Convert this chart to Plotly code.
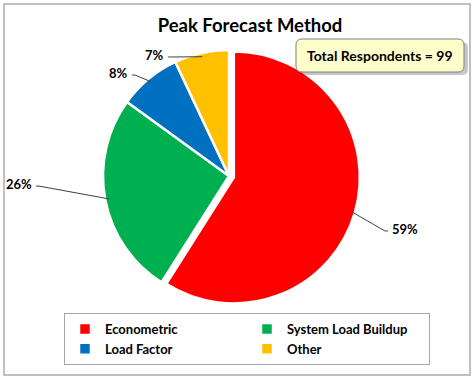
import math
import plotly.graph_objects as go

# ---- data ----
categories = ["Econometric", "System Load Buildup", "Load Factor", "Other"]
values = [59, 26, 8, 7]
label_texts = ["59%", "26%", "8%", "7%"]
title_text = "Peak Forecast Method"
note_text = "Total Respondents = 99"

# ---- style / geometry ----
colors = ["#FF0000", "#00B050", "#0070C0", "#FFC000"]
pulls = [0.04, 0, 0, 0]
label_delta = [2.3, 8.4, -3.7, -14.1]   # degrees offset of label from slice mid-angle
label_k = [1.29, 1.533, 1.123, 1.075]   # radial factor of label anchor
FONT = "Lato"

W, H = 474, 379
CX, CY, R = 229, 176, 126
half = R * (1 + max(pulls))


def px(x):
    return x / W


def py(y):
    return 1 - y / H


fig = go.Figure(go.Pie(
    labels=categories,
    values=values,
    sort=False,
    direction="clockwise",
    rotation=0,
    pull=pulls,
    textinfo="none",
    hoverinfo="label+percent",
    marker=dict(colors=colors, line=dict(color="white", width=2.5)),
    domain=dict(x=[px(CX - half), px(CX + half)], y=[py(CY + half), py(CY - half)]),
))

# labels with leader lines, positioned from slice angles
total = sum(values)
cum = 0
shapes = []
annotations = []
for i, v in enumerate(values):
    mid = (cum + v / 2) / total * 360
    cum += v
    m = math.radians(mid)
    cx = CX + pulls[i] * R * math.sin(m)
    cy = CY - pulls[i] * R * math.cos(m)
    ex, ey = cx + 0.97 * R * math.sin(m), cy - 0.97 * R * math.cos(m)
    a = math.radians(mid + label_delta[i])
    ax, ay = cx + label_k[i] * R * math.sin(a), cy - label_k[i] * R * math.cos(a)
    right = math.sin(a) > 0
    tx = ax + (-3 if right else 3)
    shapes.append(dict(type="path", xref="paper", yref="paper",
                       path=f"M{px(ex)},{py(ey)} L{px(tx)},{py(ay + 2)} L{px(ax)},{py(ay + 2)}",
                       line=dict(color="#404040", width=1)))
    annotations.append(dict(x=px(ax + (2 if right else -2)), y=py(ay), xref="paper", yref="paper",
                            text=label_texts[i], showarrow=False,
                            xanchor="left" if right else "right", yanchor="middle",
                            font=dict(family=FONT, size=13, color="black", weight="bold")))

# outer frame
shapes.append(dict(type="rect", xref="paper", yref="paper", x0=px(4), y0=py(375), x1=px(470), y1=py(4),
                   line=dict(color="#BFBFBF", width=2), fillcolor="rgba(0,0,0,0)"))


def rounded(x0, y0, x1, y1, r):
    rx, ry = r / W, r / H
    X0, X1, Y0, Y1 = px(x0), px(x1), py(y1), py(y0)
    return (f"M{X0 + rx},{Y1} L{X1 - rx},{Y1} Q{X1},{Y1} {X1},{Y1 - ry} "
            f"L{X1},{Y0 + ry} Q{X1},{Y0} {X1 - rx},{Y0} L{X0 + rx},{Y0} "
            f"Q{X0},{Y0} {X0},{Y0 + ry} L{X0},{Y1 - ry} Q{X0},{Y1} {X0 + rx},{Y1} Z")


shapes.append(dict(type="path", xref="paper", yref="paper", path=rounded(299, 42, 468, 75, 6),
                   fillcolor="rgba(0,0,0,0.22)", line=dict(width=0)))
shapes.append(dict(type="path", xref="paper", yref="paper", path=rounded(296, 39, 464, 72, 6),
                   fillcolor="#FFFFCC", line=dict(color="#7F7F7F", width=1)))
annotations.append(dict(x=px(380), y=py(56), xref="paper", yref="paper", text=note_text,
                        showarrow=False, xanchor="center", yanchor="middle",
                        font=dict(family=FONT, size=14, color="black", weight="bold")))

fig.update_layout(
    width=W, height=H,
    margin=dict(l=0, r=0, t=0, b=0),
    paper_bgcolor="white", plot_bgcolor="white",
    title=dict(text=title_text, x=px(250), y=py(26), xref="paper", yref="paper",
               xanchor="center", yanchor="middle",
               font=dict(family=FONT, size=18.5, color="black", weight="bold")),
    showlegend=True,
    legend=dict(orientation="h", x=px(64), y=py(313), xanchor="left", yanchor="top",
                entrywidth=137, entrywidthmode="pixels", tracegroupgap=0,
                bordercolor="#A6A6A6", borderwidth=1, bgcolor="white",
                font=dict(family=FONT, size=13, color="black", weight="bold")),
    shapes=shapes,
    annotations=annotations,
)

fig.write_html("out.html", config={"displayModeBar": False},
               post_script="document.body.style.margin='0';document.body.style.overflow='hidden';")
